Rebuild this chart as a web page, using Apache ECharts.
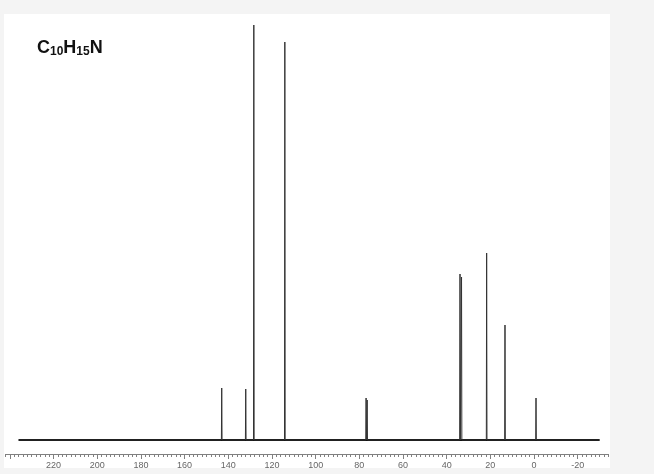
<!DOCTYPE html>
<html><head><meta charset="utf-8">
<script src="https://cdn.jsdelivr.net/npm/echarts@6/dist/echarts.min.js"></script>
<style>html,body{margin:0;padding:0;background:#f4f4f4}#c{width:654px;height:474px}</style>
</head><body><div id="c"></div>
<script>
// 13C NMR peaks (ppm) and their heights (relative intensity)
const peakShifts  = [143.0, 132.0, 128.3, 114.1, 76.9, 76.4, 33.9, 33.2, 21.7, 13.3, -0.9];
const peakHeights = [52,    51,    415,   398,   42,   40,   166,  163,  187,  115,  42];
const baselineRange = [236.0, -30.0];
const majorTickValues = [240, 220, 200, 180, 160, 140, 120, 100, 80, 60, 40, 20, 0, -20];
const tickLabelValues = [220, 200, 180, 160, 140, 120, 100, 80, 60, 40, 20, 0, -20];
const formulaParts = [['m','C'],['s','10'],['m','H'],['s','15'],['m','N']];

const halfWidth = 0.15;
const spectrum = [[baselineRange[0], 0]];
peakShifts.forEach((p, i) => {
  spectrum.push([p + halfWidth, 0], [p, peakHeights[i]], [p - halfWidth, 0]);
});
spectrum.push([baselineRange[1], 0]);
const baseline = [[baselineRange[0], 0], [baselineRange[1], 0]];

const FONT = 'Liberation Sans, Arial, sans-serif';
const chart = echarts.init(document.getElementById('c'));
chart.setOption({
  backgroundColor: '#f4f4f4',
  animation: false,
  grid: { left: 5.5, right: 45.7, top: 20, bottom: 20, containLabel: false, outerBoundsMode: 'none' },
  xAxis: [
    { type: 'value', inverse: true, min: -34, max: 242, interval: 2, position: 'bottom',
      axisLine: { show: true, onZero: false, lineStyle: { color: '#808080', width: 1 } },
      axisTick: { show: true, length: 3, lineStyle: { color: '#808080', width: 1 } },
      axisLabel: { show: false }, splitLine: { show: false } },
    { type: 'value', inverse: true, min: -34, max: 242, position: 'bottom',
      axisLine: { show: false, onZero: false },
      axisTick: { show: true, customValues: majorTickValues, length: 5, lineStyle: { color: '#808080', width: 1 } },
      axisLabel: { show: true, customValues: tickLabelValues, fontSize: 9, color: '#666', margin: 7, fontFamily: FONT },
      splitLine: { show: false } }
  ],
  yAxis: { type: 'value', min: -14, max: 420, show: false },
  graphic: [
    { type: 'rect', silent: true, z: -10, shape: { x: 4, y: 14, width: 606, height: 454 }, style: { fill: '#ffffff' } },
    { type: 'text', silent: true, z: 10, x: 37, y: 39,
      style: {
        text: formulaParts.map(p => '{' + p[0] + '|' + p[1] + '}').join(''),
        verticalAlign: 'top', align: 'left',
        rich: {
          m: { fontSize: 18, fontWeight: 'bold', fontFamily: FONT, fill: '#111', verticalAlign: 'bottom', padding: [0, 0, 1, 0] },
          s: { fontSize: 12, fontWeight: 'bold', fontFamily: FONT, fill: '#111', verticalAlign: 'bottom' }
        }
      } }
  ],
  series: [
    { type: 'line', xAxisIndex: 0, data: baseline, showSymbol: false, silent: true,
      lineStyle: { color: '#111', width: 2 }, z: 2 },
    { type: 'line', xAxisIndex: 0, data: spectrum, showSymbol: false, silent: true,
      lineStyle: { color: '#333', width: 1 }, z: 3 }
  ]
});
</script></body></html>
